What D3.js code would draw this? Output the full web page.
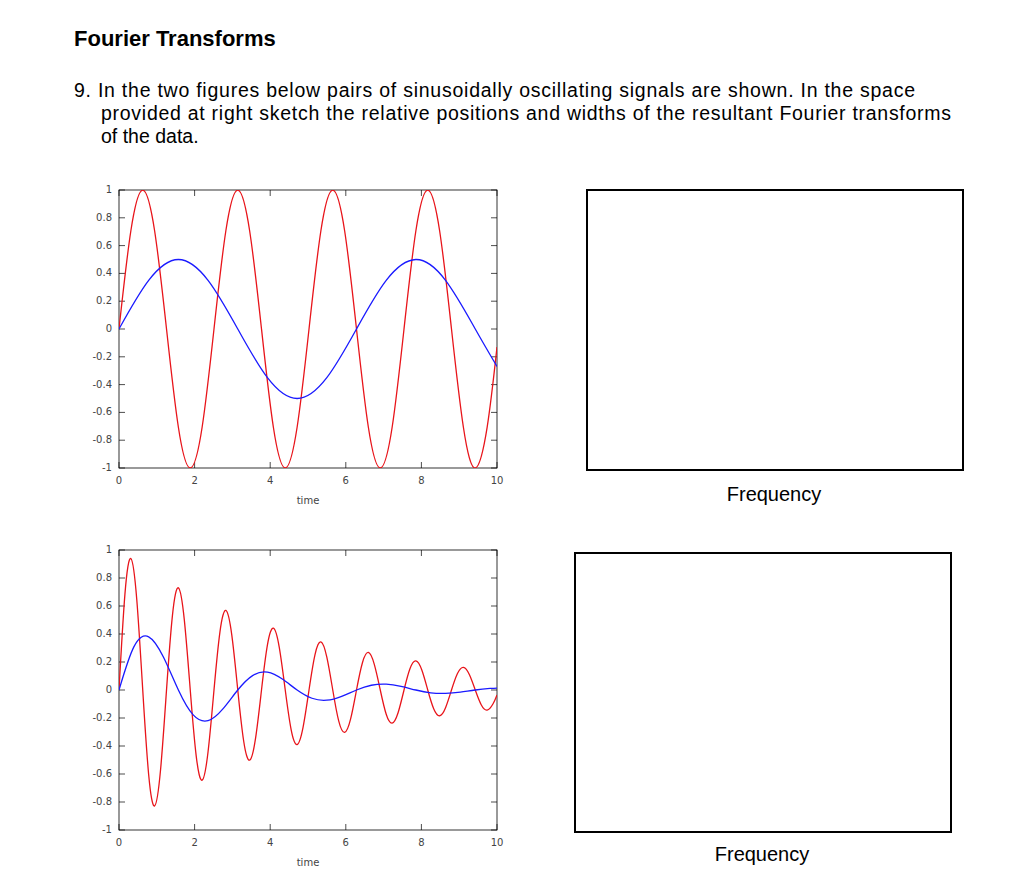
<!DOCTYPE html>
<html><head><meta charset="utf-8">
<script src="https://cdn.jsdelivr.net/npm/d3@7"></script>
<style>body{margin:0;background:#fff}</style></head>
<body><svg id="c" width="1024" height="896"></svg>
<script>
const xTicks=[0,2,4,6,8,10];
const yTicks=[1,0.8,0.6,0.4,0.2,0,-0.2,-0.4,-0.6,-0.8,-1];
const red1T=[0,0.314,0.628,0.942,1.257,1.571,1.885,2.199,2.513,2.827,3.142,3.456,3.770,4.084,4.398,4.712,5.027,5.341,5.655,5.969,6.283,6.597,6.912,7.226,7.540,7.854,8.168,8.482,8.796,9.111,9.425,9.739,10];
const red1V=[0,.707,1,.707,0,-.707,-1,-.707,0,.707,1,.707,0,-.707,-1,-.707,0,.707,1,.707,0,-.707,-1,-.707,0,.707,1,.707,0,-.707,-1,-.707,-.13];
const blue1T=[0,0.785,1.571,2.356,3.142,3.927,4.712,5.498,6.283,7.069,7.854,8.639,9.425,10];
const blue1V=[0,.35,.5,.35,0,-.35,-.5,-.35,0,.35,.5,.35,0,-.27];
const red2V=[0,.685,.939,.643,0,-.605,-.828,-.568,0,.533,.730,.501,0,-.470,-.644,-.441,0,.414,.568,.390,0,-.366,-.501,-.344,0,.322,.442,.303,0,-.284,-.390,-.267,0,.251,.344,.235,0,-.221,-.303,-.208,0,.195,.268,.183,0,-.173,-.236,-.162,0,.152,.208,.143,0,-.134,-.184,-.126,0,.118,.162,.111,0,-.105,-.143,-.098,-.035];
const red2T=[0,.157,.314,.471,.628,.785,.942,1.100,1.257,1.414,1.571,1.728,1.885,2.042,2.199,2.356,2.513,2.670,2.827,2.985,3.142,3.299,3.456,3.613,3.770,3.927,4.084,4.241,4.398,4.555,4.712,4.869,5.027,5.184,5.341,5.498,5.655,5.812,5.969,6.126,6.283,6.440,6.597,6.754,6.912,7.069,7.226,7.383,7.540,7.697,7.854,8.011,8.168,8.325,8.482,8.639,8.796,8.954,9.111,9.268,9.425,9.582,9.739,9.896,10];
const blue2T=[0,.393,.785,1.178,1.571,1.963,2.356,2.749,3.142,3.534,3.927,4.320,4.712,5.105,5.498,5.890,6.283,6.676,7.069,7.461,7.854,8.247,8.639,9.032,9.425,9.817,10];
const blue2V=[0,.308,.380,.234,0,-.178,-.219,-.135,0,.103,.127,.078,0,-.059,-.073,-.045,0,.034,.042,.026,0,-.020,-.024,-.015,0,.011,.014];

const svg=d3.select("#c");
const F="Helvetica, Arial, 'Liberation Sans', sans-serif";
svg.append("text").attr("x",74).attr("y",46).attr("font-family",F).attr("font-weight","bold").attr("font-size",22).text("Fourier Transforms");
const lines=[[74,"9.  In the two figures below pairs of sinusoidally oscillating signals are shown. In the space"],[101,"provided at right sketch the relative positions and widths of the resultant Fourier transforms"],[101,"of the data."]];
lines.forEach((l,i)=>svg.append("text").attr("x",l[0]).attr("y",97+i*23).attr("font-family",F).attr("font-size",19.5).attr("textLength",i===2?null:(i===0?841:850)).attr("lengthAdjust","spacing").text(l[1]));

function plot(top,bottom,series){
  const x=d3.scaleLinear().domain([0,10]).range([119,497]);
  const y=d3.scaleLinear().domain([-1,1]).range([bottom,top]);
  const g=svg.append("g");
  g.append("rect").attr("x",119).attr("y",top).attr("width",378).attr("height",bottom-top).attr("fill","none").attr("stroke","#000").attr("stroke-width",0.8);
  const tf=s=>s.attr("font-family","'DejaVu Sans',sans-serif").attr("font-size",10).attr("fill","#444");
  xTicks.forEach(t=>{
    g.append("line").attr("x1",x(t)).attr("x2",x(t)).attr("y1",bottom).attr("y2",bottom-6).attr("stroke","#000").attr("stroke-width",0.7);
    g.append("line").attr("x1",x(t)).attr("x2",x(t)).attr("y1",top).attr("y2",top+6).attr("stroke","#000").attr("stroke-width",0.7);
    tf(g.append("text").attr("x",x(t)).attr("y",bottom+16).attr("text-anchor","middle")).text(t);
  });
  yTicks.forEach(t=>{
    g.append("line").attr("x1",119).attr("x2",125).attr("y1",y(t)).attr("y2",y(t)).attr("stroke","#000").attr("stroke-width",0.7);
    g.append("line").attr("x1",491).attr("x2",497).attr("y1",y(t)).attr("y2",y(t)).attr("stroke","#000").attr("stroke-width",0.7);
    tf(g.append("text").attr("x",112).attr("y",y(t)+3).attr("text-anchor","end")).text(String(t));
  });
  tf(g.append("text").attr("x",308).attr("y",bottom+36).attr("text-anchor","middle")).text("time");
  const line=d3.line().x(d=>x(d[0])).y(d=>y(d[1])).curve(d3.curveNatural);
  g.append("clipPath").attr("id","cp"+top).append("rect").attr("x",119).attr("y",top).attr("width",378).attr("height",bottom-top);
  series.forEach(s=>g.append("path").attr("clip-path","url(#cp"+top+")").attr("d",line(d3.zip(s.t,s.v))).attr("fill","none").attr("stroke",s.c).attr("stroke-width",1.3));
}
plot(190,468,[{t:red1T,v:red1V,c:"#e8141a"},{t:blue1T,v:blue1V,c:"#1a1aff"}]);
plot(550,830,[{t:red2T,v:red2V,c:"#e8141a"},{t:blue2T,v:blue2V,c:"#1a1aff"}]);

svg.append("rect").attr("x",587).attr("y",190).attr("width",376).attr("height",280).attr("fill","none").attr("stroke","#000").attr("stroke-width",2);
svg.append("text").attr("x",774).attr("y",501).attr("text-anchor","middle").attr("font-family",F).attr("font-size",20).text("Frequency");
svg.append("rect").attr("x",575).attr("y",553).attr("width",376).attr("height",279).attr("fill","none").attr("stroke","#000").attr("stroke-width",2);
svg.append("text").attr("x",762).attr("y",861).attr("text-anchor","middle").attr("font-family",F).attr("font-size",20).text("Frequency");
</script></body></html>
